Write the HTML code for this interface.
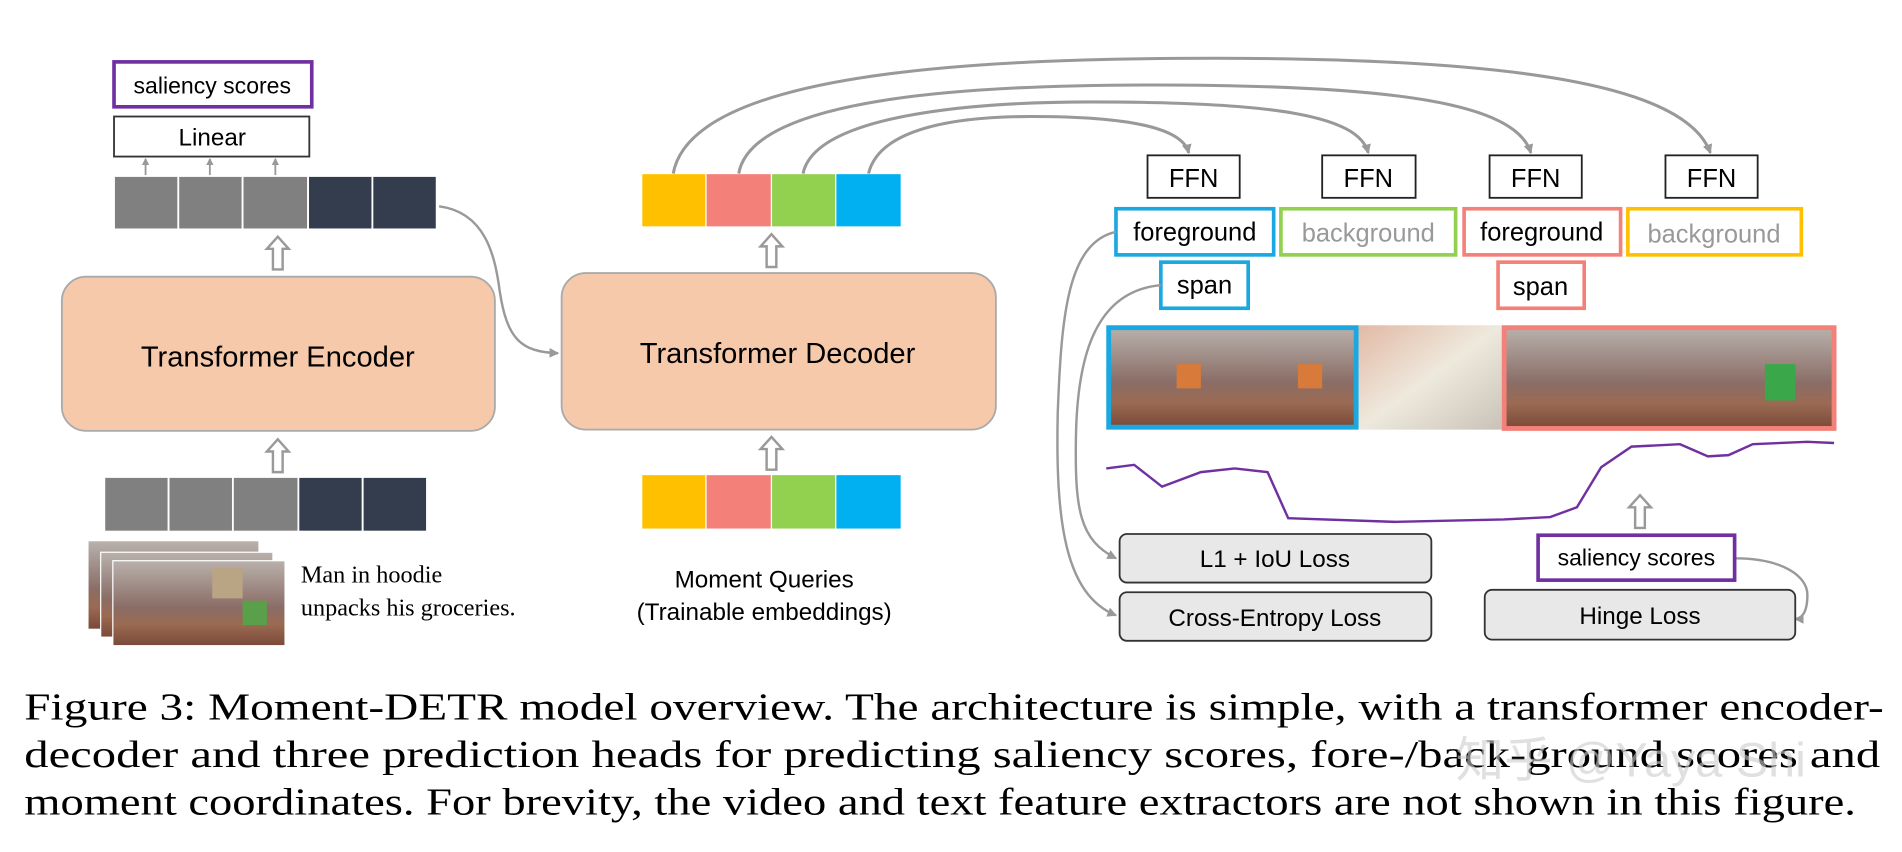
<!DOCTYPE html>
<html><head><meta charset="utf-8"><style>
html,body{margin:0;padding:0;background:#fff;width:1902px;height:852px;overflow:hidden}
svg{display:block}
.s{font-family:"Liberation Sans",sans-serif}
.r{font-family:"Liberation Serif",serif}
</style></head><body>
<svg width="1902" height="852" viewBox="0 0 1568 702" preserveAspectRatio="none">
<defs>
<marker id="ah" markerWidth="8" markerHeight="8" refX="7" refY="4" orient="auto" markerUnits="userSpaceOnUse"><path d="M0,0 L8,4 L0,8 Z" fill="#999"/></marker>
<marker id="sa" markerWidth="6" markerHeight="6" refX="5" refY="3" orient="auto" markerUnits="userSpaceOnUse"><path d="M0,0 L6,3 L0,6 Z" fill="#999"/></marker>
<linearGradient id="room" x1="0" y1="0" x2="0" y2="1"><stop offset="0" stop-color="#b9b1ac"/><stop offset="0.55" stop-color="#8a6d66"/><stop offset="0.75" stop-color="#9b6a52"/><stop offset="1" stop-color="#7a4a3a"/></linearGradient>
<linearGradient id="baby" x1="0" y1="0" x2="1" y2="1"><stop offset="0" stop-color="#e2b9a5"/><stop offset="0.5" stop-color="#eee9dd"/><stop offset="1" stop-color="#c9c2b8"/></linearGradient>
<g id="hol"><path d="M0,0 L9,10 L4,10 L4,27 L-4,27 L-4,10 L-9,10 Z" fill="#fff" stroke="#999" stroke-width="2"/></g>
</defs>
<!-- left: saliency & linear -->
<rect x="94" y="51" width="163" height="37" fill="#fff" stroke="#7030a0" stroke-width="3"/>
<text x="175" y="77" class="s" font-size="19" text-anchor="middle">saliency scores</text>
<rect x="94" y="96" width="161" height="33" fill="#fff" stroke="#333" stroke-width="1.5"/>
<text x="175" y="120" class="s" font-size="20" text-anchor="middle">Linear</text>
<g stroke="#999" stroke-width="1.5" marker-end="url(#sa)"><line x1="120" y1="145" x2="120" y2="131"/><line x1="173" y1="145" x2="173" y2="131"/><line x1="227" y1="145" x2="227" y2="131"/></g>
<g stroke="#fff" stroke-width="1.5">
<rect x="94" y="145" width="53" height="44" fill="#808080"/><rect x="147" y="145" width="53" height="44" fill="#808080"/><rect x="200" y="145" width="54" height="44" fill="#808080"/><rect x="254" y="145" width="53" height="44" fill="#333d4d"/><rect x="307" y="145" width="53" height="44" fill="#333d4d"/>
</g>
<use href="#hol" x="229" y="195"/>
<rect x="51" y="228" width="357" height="127" rx="20" fill="#f5c9aa" stroke="#aaa" stroke-width="1.5"/>
<text x="229" y="302" class="s" font-size="24" text-anchor="middle">Transformer Encoder</text>
<use href="#hol" x="229" y="362"/>
<g stroke="#fff" stroke-width="1.5">
<rect x="86" y="393" width="53" height="45" fill="#808080"/><rect x="139" y="393" width="53" height="45" fill="#808080"/><rect x="192" y="393" width="54" height="45" fill="#808080"/><rect x="246" y="393" width="53" height="45" fill="#333d4d"/><rect x="299" y="393" width="53" height="45" fill="#333d4d"/>
</g>
<rect x="73" y="446" width="140" height="72" fill="url(#room)"/>
<rect x="83" y="455" width="142" height="70" fill="url(#room)" stroke="#fff"/>
<rect x="93" y="462" width="142" height="70" fill="url(#room)" stroke="#fff"/>
<rect x="175" y="468" width="25" height="25" fill="#b9a584"/><rect x="200" y="495" width="20" height="20" fill="#5aa04a"/>
<text x="248" y="480" class="r" font-size="20">Man in hoodie</text>
<text x="248" y="507" class="r" font-size="20">unpacks his groceries.</text>
<!-- encoder to decoder -->
<path d="M362,170 C400,175 408,210 412,240 C418,280 430,290 460,291" fill="none" stroke="#999" stroke-width="2" marker-end="url(#ah)"/>
<!-- decoder -->
<rect x="463" y="225" width="358" height="129" rx="20" fill="#f5c9aa" stroke="#aaa" stroke-width="1.5"/>
<text x="641" y="299" class="s" font-size="24" text-anchor="middle">Transformer Decoder</text>
<g stroke="#fff" stroke-width="1">
<rect x="529" y="143" width="53" height="44" fill="#ffc000"/><rect x="582" y="143" width="54" height="44" fill="#f4807a"/><rect x="636" y="143" width="53" height="44" fill="#92d050"/><rect x="689" y="143" width="54" height="44" fill="#00b0f0"/>
<rect x="529" y="391" width="53" height="45" fill="#ffc000"/><rect x="582" y="391" width="54" height="45" fill="#f4807a"/><rect x="636" y="391" width="53" height="45" fill="#92d050"/><rect x="689" y="391" width="54" height="45" fill="#00b0f0"/>
</g>
<use href="#hol" x="636" y="193"/>
<use href="#hol" x="636" y="360"/>
<text x="630" y="484" class="s" font-size="20" text-anchor="middle">Moment Queries</text>
<text x="630" y="511" class="s" font-size="20" text-anchor="middle">(Trainable embeddings)</text>
<!-- arcs -->
<g fill="none" stroke="#999" stroke-width="2.5" marker-end="url(#ah)">
<path d="M555,143 C570,60 800,48 1000,48 C1250,48 1390,70 1410,126"/>
<path d="M609,143 C620,80 800,70 950,70 C1150,70 1250,85 1262,126"/>
<path d="M662,143 C672,95 800,84 900,84 C1050,84 1120,95 1128,126"/>
<path d="M716,143 C725,105 790,96 850,96 C930,96 975,105 980,126"/>
</g>
<!-- FFN -->
<g stroke="#222" stroke-width="1.5" fill="#fff">
<rect x="946" y="128" width="76" height="35"/><rect x="1090" y="128" width="77" height="35"/><rect x="1228" y="128" width="76" height="35"/><rect x="1373" y="128" width="76" height="35"/>
</g>
<g class="s" font-size="21" text-anchor="middle">
<text x="984" y="154">FFN</text><text x="1128" y="154">FFN</text><text x="1266" y="154">FFN</text><text x="1411" y="154">FFN</text>
</g>
<g fill="#fff" stroke-width="3">
<rect x="920" y="172" width="130" height="38" stroke="#1ba8e0"/>
<rect x="1056" y="172" width="144" height="38" stroke="#92d050"/>
<rect x="1207" y="172" width="129" height="38" stroke="#f4807a"/>
<rect x="1342" y="172" width="143" height="38" stroke="#ffc000"/>
<rect x="957" y="216" width="72" height="38" stroke="#1ba8e0"/>
<rect x="1235" y="216" width="71" height="38" stroke="#f4807a"/>
</g>
<g class="s" font-size="21" text-anchor="middle">
<text x="985" y="198">foreground</text><text x="1128" y="199" fill="#999">background</text>
<text x="1271" y="198">foreground</text><text x="1413" y="200" fill="#999">background</text>
<text x="993" y="242">span</text><text x="1270" y="243">span</text>
</g>
<!-- images -->
<rect x="1120" y="268" width="118" height="86" fill="url(#baby)"/>
<rect x="914" y="270" width="204" height="82" fill="url(#room)" stroke="#1ba8e0" stroke-width="4"/>
<rect x="1240" y="270" width="272" height="83" fill="url(#room)" stroke="#f4807a" stroke-width="4"/>
<rect x="1070" y="300" width="20" height="20" fill="#d87a3a"/><rect x="970" y="300" width="20" height="20" fill="#d87a3a"/>
<rect x="1455" y="300" width="25" height="30" fill="#3aa84a"/>
<!-- saliency curve -->
<polyline points="912,386 935,383 958,401 990,389 1018,386 1045,389 1062,427 1150,430 1240,428 1278,426 1300,418 1320,385 1345,368 1385,366 1408,376 1425,375 1445,366 1490,364 1512,365" fill="none" stroke="#7030a0" stroke-width="2"/>
<use href="#hol" x="1352" y="408"/>
<!-- left connectors -->
<g fill="none" stroke="#999" stroke-width="2" marker-end="url(#ah)">
<path d="M920,191 C880,200 875,260 872,340 C870,430 878,490 920,507"/>
<path d="M957,235 C900,240 888,300 887,360 C886,420 890,445 920,460"/>
<path d="M1430,460 C1470,460 1490,475 1490,490 C1490,505 1485,510 1480,510"/>
</g>
<!-- losses -->
<g fill="#e8e8e8" stroke="#333" stroke-width="1.5">
<rect x="923" y="440" width="257" height="40" rx="6"/>
<rect x="923" y="488" width="257" height="40" rx="6"/>
<rect x="1224" y="486" width="256" height="41" rx="6"/>
</g>
<rect x="1268" y="441" width="162" height="37" fill="#fff" stroke="#7030a0" stroke-width="3"/>
<g class="s" font-size="20" text-anchor="middle">
<text x="1051" y="467">L1 + IoU Loss</text>
<text x="1051" y="516">Cross-Entropy Loss</text>
<text x="1349" y="466" font-size="19">saliency scores</text>
<text x="1352" y="514">Hinge Loss</text>
</g>
<!-- caption -->
<g class="r" font-size="31">
<text x="20" y="593" textLength="1533" lengthAdjust="spacingAndGlyphs">Figure 3: Moment-DETR model overview. The architecture is simple, with a transformer encoder-</text>
<text x="20" y="632" textLength="1530" lengthAdjust="spacingAndGlyphs">decoder and three prediction heads for predicting saliency scores, fore-/back-ground scores and</text>
<text x="20" y="671" textLength="1510" lengthAdjust="spacingAndGlyphs">moment coordinates. For brevity, the video and text feature extractors are not shown in this figure.</text>
</g>
<text x="1200" y="640" font-family="'Liberation Sans','Noto Sans CJK SC',sans-serif" font-size="40" fill="#ccc" opacity="0.6">知乎 @Yaya Shi</text>
</svg>
</body></html>
